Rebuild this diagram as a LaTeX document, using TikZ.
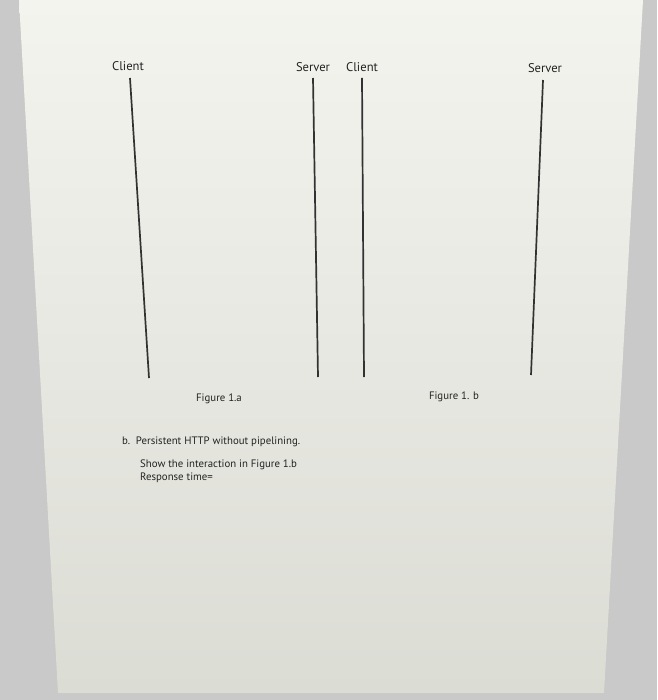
\documentclass[tikz,border=0pt]{standalone}
\usepackage{fontspec}
\setmainfont{PT Sans}
\definecolor{bgGrey}{RGB}{200,201,200}
\definecolor{pageTop}{RGB}{244,244,239}
\definecolor{pageBot}{RGB}{219,220,212}
\definecolor{ink}{RGB}{50,50,50}
\definecolor{txt}{RGB}{35,35,35}
\tikzset{
  lifeline/.style={draw=ink, line width=1.7pt},
  role/.style={font=\fontsize{12.6}{14}\selectfont, text=txt, inner sep=0pt},
  caption/.style={font=\fontsize{10.8}{12}\selectfont, text=txt, inner sep=0pt},
  body/.style={font=\fontsize{10.8}{12.5}\selectfont, text=txt, inner sep=0pt, align=left, anchor=north west}
}
\begin{document}
\begin{tikzpicture}[x=1pt,y=-1pt]
\useasboundingbox (0,0) rectangle (657,700);
\fill[bgGrey] (0,0) rectangle (657,700);
\shade[top color=pageTop, bottom color=pageBot] (19,0) -- (643,0) -- (604,693) -- (58,693) -- cycle;
% labels
\node[role] (c1) at (128,66) {Client};
\node[role] (s1) at (313,67) {Server};
\node[role] (c2) at (362,67) {Client};
\node[role] (s2) at (545,68) {Server};
% lifeline end points
\coordinate (c1t) at (130,78);
\coordinate (c1b) at (149,378);
\coordinate (s1t) at (313,78);
\coordinate (s1b) at (318,377);
\coordinate (c2t) at (362,78);
\coordinate (c2b) at (364,377);
\coordinate (s2t) at (543,80);
\coordinate (s2b) at (531,375);
\draw[lifeline] (c1t) -- (c1b);
\draw[lifeline] (s1t) -- (s1b);
\draw[lifeline] (c2t) -- (c2b);
\draw[lifeline] (s2t) -- (s2b);
% captions
\node[caption] (fa) at (219,399) {Figure 1.a};
\node[caption] (fb) at (454,397) {Figure 1. b};
% question text
\node[body] (qb) at (122,437) {b.\ \ Persistent HTTP without pipelining.};
\node[body] (qs) at (140,460) {Show the interaction in Figure 1.b\\Response time=};
\end{tikzpicture}
\end{document}
